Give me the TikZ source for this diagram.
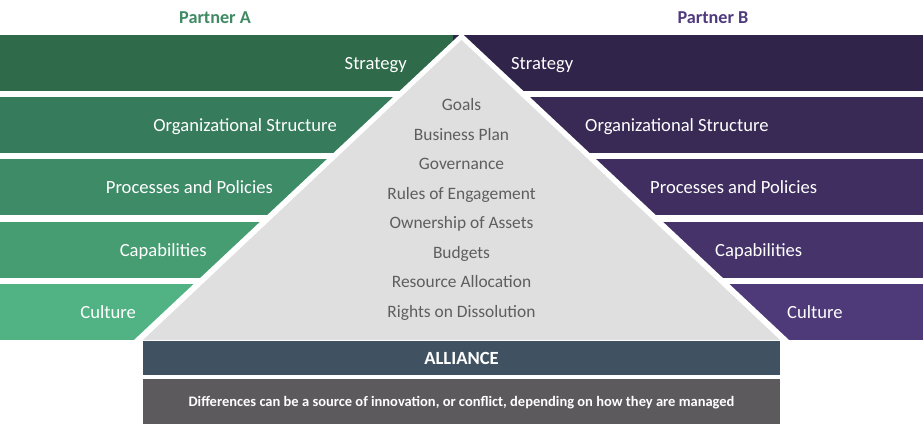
\documentclass[tikz,border=0pt]{standalone}
\usepackage{fontspec}
\setmainfont{Carlito}
\definecolor{gA1}{HTML}{2F6A4B}
\definecolor{gA2}{HTML}{367B5B}
\definecolor{gA3}{HTML}{3E8B67}
\definecolor{gA4}{HTML}{469D72}
\definecolor{gA5}{HTML}{51B283}
\definecolor{pB1}{HTML}{30244A}
\definecolor{pB2}{HTML}{392A55}
\definecolor{pB3}{HTML}{3F2E5F}
\definecolor{pB4}{HTML}{45336A}
\definecolor{pB5}{HTML}{4E3A79}
\definecolor{triGray}{HTML}{DFDFDF}
\definecolor{triText}{HTML}{5E5E5E}
\definecolor{allianceC}{HTML}{405261}
\definecolor{bottomC}{HTML}{5D5A5D}
\definecolor{partA}{HTML}{3F8A63}
\definecolor{partB}{HTML}{503A7E}
\begin{document}
\begin{tikzpicture}[x=1pt,y=-1pt,
  barlabel/.style={text=white,font=\fontsize{18.6}{18.6}\selectfont,inner sep=0pt},
  trilabel/.style={text=triText,font=\fontsize{17.4}{17.4}\selectfont,inner sep=0pt,anchor=base},
  partner/.style={font=\bfseries\fontsize{18.2}{18.2}\selectfont,inner sep=0pt,anchor=base}]
\useasboundingbox (0,0) rectangle (923,424);
% bars
\foreach \i/\ca/\cb in {0/gA1/pB1,1/gA2/pB2,2/gA3/pB3,3/gA4/pB4,4/gA5/pB5}{
  \pgfmathsetmacro{\yt}{35+62.2*\i}
  \fill[\ca] (0,\yt) rectangle (470,\yt+56);
  \fill[\cb] (453,\yt) rectangle (923,\yt+56);
}
% white separating triangle
\fill[white] (461.5,33) -- (134,340) -- (789,340) -- cycle;
% gray triangle
\fill[triGray] (461.5,40) -- (143,340) -- (780,340) -- cycle;
% alliance and bottom bars
\fill[allianceC] (143,341) rectangle (780,375);
\fill[bottomC] (143,379) rectangle (780,424);
% partner labels
\node[partner,text=partA] (pa) at (215,23) {Partner A};
\node[partner,text=partB] (pb) at (713,23) {Partner B};
% left labels
\node[barlabel,anchor=base east] (la1) at (407,69.5) {Strategy};
\node[barlabel,anchor=base east] (la2) at (337,131.7) {Organizational Structure};
\node[barlabel,anchor=base east] (la3) at (273,193.9) {Processes and Policies};
\node[barlabel,anchor=base east] (la4) at (207,256.1) {Capabilities};
\node[barlabel,anchor=base east] (la5) at (136,318.3) {Culture};
% right labels
\node[barlabel,anchor=base west] (rb1) at (511,69.5) {Strategy};
\node[barlabel,anchor=base west] (rb2) at (585,131.7) {Organizational Structure};
\node[barlabel,anchor=base west] (rb3) at (650,193.9) {Processes and Policies};
\node[barlabel,anchor=base west] (rb4) at (715,256.1) {Capabilities};
\node[barlabel,anchor=base west] (rb5) at (787,318.3) {Culture};
% triangle labels
\node[trilabel] (t1) at (461.5,110.5) {Goals};
\node[trilabel] (t2) at (461.5,140) {Business Plan};
\node[trilabel] (t3) at (461.5,169.5) {Governance};
\node[trilabel] (t4) at (461.5,199) {Rules of Engagement};
\node[trilabel] (t5) at (461.5,228.5) {Ownership of Assets};
\node[trilabel] (t6) at (461.5,258) {Budgets};
\node[trilabel] (t7) at (461.5,287.5) {Resource Allocation};
\node[trilabel] (t8) at (461.5,317) {Rights on Dissolution};
% alliance texts
\node[text=white,font=\bfseries\fontsize{18.6}{18.6}\selectfont,inner sep=0pt,anchor=base] (al) at (461.5,364.5) {ALLIANCE};
\node[text=white,font=\bfseries\fontsize{14.5}{14.5}\selectfont,inner sep=0pt,anchor=base] (bt) at (461.5,406.5) {Differences can be a source of innovation, or conflict, depending on how they are managed};
\end{tikzpicture}
\end{document}
